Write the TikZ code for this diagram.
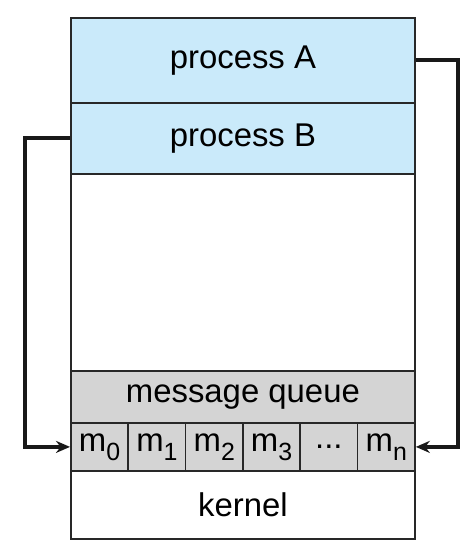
\documentclass[tikz,border=0pt]{standalone}
\usepackage{fontspec}
\setmainfont{Liberation Sans}
\usetikzlibrary{arrows.meta}
\definecolor{procblue}{RGB}{202,234,250}
\definecolor{qgray}{RGB}{212,212,212}
\definecolor{edge}{RGB}{40,40,40}
\newcommand\msub[1]{\raisebox{-0.28em}{\fontsize{25}{25}\selectfont #1}}
\begin{document}
\begin{tikzpicture}[x=1bp,y=-1bp,
  blk/.style={draw=edge, line width=1.8bp, rectangle, inner sep=0pt, minimum width=344bp, anchor=north west, font=\fontsize{33}{38}\selectfont},
  cell/.style={draw=edge, line width=1.8bp, rectangle, inner sep=0pt, minimum width=57.333bp, minimum height=48bp, anchor=north west, fill=qgray, font=\fontsize{33}{38}\selectfont},
  link/.style={line width=3.4bp, black!90, line join=miter, -{Stealth[length=14bp,width=12bp]}}
]
\useasboundingbox (0,0) rectangle (474,548);
\node[blk, fill=procblue, minimum height=85bp] (pa) at (70,17) {process A};
\node[blk, fill=procblue, minimum height=71bp] (pb) at (70,102) {process B};
\node[blk, minimum height=197bp] (free) at (70,173) {};
\node[blk, fill=qgray, minimum height=52bp] (mq) at (70,370) {message queue};
\node[cell] (m0) at (70,422) {m\msub{0}};
\node[cell] (m1) at (127.333,422) {m\msub{1}};
\node[cell] (m2) at (184.667,422) {m\msub{2}};
\node[cell] (m3) at (242,422) {m\msub{3}};
\node[cell] (md) at (299.333,422) {...};
\node[cell] (mn) at (356.667,422) {m\msub{n}};
\node[blk, minimum height=68bp] (kern) at (70,470) {kernel};
\coordinate (ra) at (458,60);
\coordinate (lb) at (25,138);
\draw[link] (pa.east |- ra) -- (ra) |- (mn.east);
\draw[link] (pb.west |- lb) -- (lb) |- (m0.west);
\end{tikzpicture}
\end{document}
